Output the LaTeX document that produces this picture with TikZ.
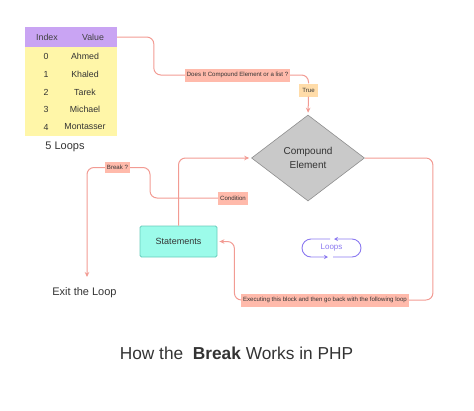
\documentclass[tikz,border=0pt]{standalone}
\usepackage{fontspec}
\setmainfont{Liberation Sans}
\usepackage{tikz}
\usetikzlibrary{shapes.geometric,arrows.meta}
\definecolor{linkred}{HTML}{F29B93}
\definecolor{tagfill}{HTML}{FFBAAB}
\definecolor{truefill}{HTML}{FFDCA9}
\definecolor{headfill}{HTML}{C9A4F3}
\definecolor{rowfill}{HTML}{FFF6A8}
\definecolor{diafill}{HTML}{C9C9C9}
\definecolor{diadraw}{HTML}{8E8E8E}
\definecolor{stmfill}{HTML}{9CFBEA}
\definecolor{stmdraw}{HTML}{68CDBC}
\definecolor{loopcol}{HTML}{8B79F0}
\definecolor{txt}{HTML}{333333}

\begin{document}
\begin{tikzpicture}[x=1pt, y=-1pt,
  link/.style={draw=linkred, line width=1pt, rounded corners=7pt},
  arrow/.style={link, -{Stealth[length=5pt,width=4.5pt]}, shorten >=2pt},
  tag/.style={fill=tagfill, text=black!80, font=\fontsize{6.1}{7}\selectfont, inner sep=1.8pt, minimum height=13pt},
  cell/.style={text=txt, font=\fontsize{8.8}{10}\selectfont, inner sep=0pt}]
\useasboundingbox (0,0) rectangle (474,410);

% table of names
\node[fill=headfill, minimum width=92pt, minimum height=20pt, inner sep=0pt] (head) at (71,37) {};
\node[fill=rowfill, minimum width=92pt, minimum height=89pt, inner sep=0pt] (rows) at (71,91.5) {};
\node[cell, text=black!75] (idxhead) at (47,37) {Index};
\node[cell, text=black!75] (valhead) at (93,37) {Value};
\foreach \i/\name/\y in {0/Ahmed/56, 1/Khaled/74, 2/Tarek/92, 3/Michael/109, 4/Montasser/127}
  \node[cell] (val\i) at (85,\y) {\name};
\foreach \i/\y in {0/56, 1/74, 2/92, 3/109, 4/127}
  \node[cell] (idx\i) at (46,\y) {\i};
\node[cell, font=\fontsize{11}{13}\selectfont] (fiveloops) at (65,147) {5 Loops};

% labels on the links
\node[tag] (compound) at (237.5,75) {Does It Compound Element or a list ?};
\node[tag, fill=truefill, minimum width=19pt] (true) at (308.5,90) {True};
\node[tag] (condition) at (233,198) {Condition};
\node[tag, minimum height=11pt] (break) at (117.5,167.5) {Break ?};
\node[tag] (executing) at (325,300) {Executing this block and then go back with the following loop};

% main blocks
\node[diamond, draw=diadraw, fill=diafill, line width=0.6pt, minimum width=113pt, minimum height=86pt,
  inner sep=0pt, align=center, text=txt, font=\fontsize{10}{14}\selectfont] (element) at (308,158)
{Compound\\Element};
\node[draw=stmdraw, fill=stmfill, line width=0.8pt, rounded corners=1.5pt, minimum width=77pt,
  minimum height=31pt, text=txt, font=\fontsize{9}{11}\selectfont] (statements) at (178.5,241.5) {Statements};
\node[text=txt, font=\fontsize{11}{13}\selectfont] (exit) at (84.5,293) {Exit the Loop};
\coordinate (exitend) at (87,277);

% loops badge
\node[text=loopcol, font=\fontsize{8}{10}\selectfont] (loops) at (331.5,248) {Loops};
\draw[loopcol, line width=0.9pt, rounded corners=9pt, -{Stealth[length=4pt,width=4pt]}]
  (333,257) -- (361,257) -- (361,239) -- (334,239);
\draw[loopcol, line width=0.9pt, rounded corners=9pt, -{Stealth[length=4pt,width=4pt]}]
  (330,239) -- (302,239) -- (302,257) -- (328,257);

% links
\draw[link] (head.east) -| ([xshift=-31pt]compound.west) -- (compound.west);
\draw[link] (compound.east) -| (true.north);
\draw[arrow] (true.south) -- (element.north);
\draw[link] (element.east) -| ([xshift=24pt]executing.east) -- (executing.east);
\draw[arrow] (executing.west) -| ([xshift=17pt]statements.east) -- (statements.east);
\draw[arrow] (statements.north) |- (element.west);
\draw[link] (condition.west) -| ([xshift=20pt]break.east) -- (break.east);
\draw[arrow, shorten >=0pt] (break.west) -| (exitend);

% title
\node[text=txt, font=\fontsize{17.3}{20}\selectfont] (title) at (236.5,353) {How the\ \ \textbf{Break} Works in PHP};
\end{tikzpicture}
\end{document}
